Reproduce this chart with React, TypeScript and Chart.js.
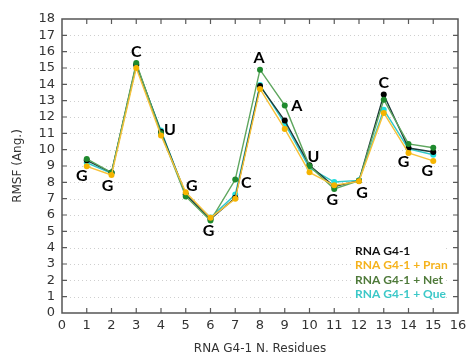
import React, { useEffect, useRef } from "react";
import { Chart, registerables } from "chart.js";

Chart.register(...registerables);

const residues = [1, 2, 3, 4, 5, 6, 7, 8, 9, 10, 11, 12, 13, 14, 15];
const bases = ["G", "G", "C", "U", "G", "G", "C", "A", "A", "U", "G", "G", "C", "G", "G"];
const rnaG41 = [9.35, 8.6, 15.2, 11.1, 7.25, 5.75, 7.05, 13.9, 11.78, 9.05, 7.75, 8.1, 13.37, 10.1, 9.86];
const rnaPran = [8.98, 8.45, 15.0, 10.87, 7.39, 5.83, 6.99, 13.72, 11.27, 8.61, 7.82, 8.06, 12.25, 9.8, 9.31];
const rnaNet = [9.43, 8.6, 15.3, 11.0, 7.14, 5.66, 8.17, 14.9, 12.71, 9.0, 7.59, 8.1, 13.06, 10.35, 10.12];
const rnaQue = [9.2, 8.55, 15.15, 11.17, 7.25, 5.85, 7.25, 13.96, 11.59, 8.88, 8.02, 8.12, 12.45, 10.05, 9.69];
const seriesLabels = ["RNA G4-1", "RNA G4-1 + Pran", "RNA G4-1 + Net", "RNA G4-1 + Que"];

// label offsets (pixels) relative to the RNA G4-1 point
const letterOffsets = [
  [-5, 16], [-4, 13], [0, -13], [9, -2], [6, -9], [-2, 12], [11, -15], [-1, -28],
  [12, -15], [4, -8], [-2, 13], [3, 12], [0, -12], [-5, 14], [-6, 19],
];

const legendColors = ["#111111", "#f5b21c", "#4f7a3a", "#3cc8c8"];

const toPts = (arr: number[]) => arr.map((y, i) => ({ x: residues[i], y }));

export default function App() {
  const ref = useRef<HTMLCanvasElement | null>(null);
  useEffect(() => {
    if (!ref.current) return;
    const overlay = {
      id: "overlay",
      beforeDatasetsDraw(chart: any) {
        const ctx = chart.ctx;
        const ys = chart.scales.y;
        const { left, right } = chart.chartArea;
        ctx.save();
        ctx.strokeStyle = "#cfcfcf";
        ctx.lineWidth = 1;
        ctx.setLineDash([1, 3]);
        ctx.beginPath();
        for (let v = 1; v < 18; v++) {
          const py = Math.round(ys.getPixelForValue(v)) + 0.5;
          ctx.moveTo(left + 8, py);
          ctx.lineTo(right - 8, py);
        }
        ctx.stroke();
        ctx.restore();
      },
      afterDraw(chart: any) {
        const ctx = chart.ctx;
        const xs = chart.scales.x;
        const ys = chart.scales.y;
        const { left, right, top, bottom } = chart.chartArea;
        ctx.save();
        // legend background
        ctx.fillStyle = "#ffffff";
        ctx.fillRect(353, 243, 92, 60);
        // inward ticks
        ctx.strokeStyle = "#5a5a5a";
        ctx.lineWidth = 1.2;
        ctx.beginPath();
        for (let v = 1; v < 16; v++) {
          const px = xs.getPixelForValue(v);
          ctx.moveTo(px, bottom);
          ctx.lineTo(px, bottom - 5);
          ctx.moveTo(px, top);
          ctx.lineTo(px, top + 5);
        }
        for (let v = 1; v < 18; v++) {
          const py = ys.getPixelForValue(v);
          ctx.moveTo(left, py);
          ctx.lineTo(left + 5, py);
          ctx.moveTo(right, py);
          ctx.lineTo(right - 5, py);
        }
        ctx.stroke();
        // box
        ctx.strokeStyle = "#555555";
        ctx.lineWidth = 1.5;
        ctx.strokeRect(left, top, right - left, bottom - top);
        // legend
        ctx.textAlign = "left";
        ctx.textBaseline = "middle";
        const lx = 355;
        const ly0 = 251;
        seriesLabels.forEach((t, i) => {
          ctx.font = "bold 12px Lato";
          ctx.fillStyle = legendColors[i];
          ctx.fillText(t, lx, ly0 + i * 14.5);
        });
        ctx.restore();
      },
      afterDatasetsDraw(chart: any) {
        const ctx = chart.ctx;
        const xs = chart.scales.x;
        const ys = chart.scales.y;
        ctx.save();
        ctx.font = "bold 16px Lato";
        ctx.fillStyle = "#000";
        ctx.textAlign = "center";
        ctx.textBaseline = "middle";
        bases.forEach((b, i) => {
          const px = xs.getPixelForValue(residues[i]) + letterOffsets[i][0];
          const py = ys.getPixelForValue(rnaG41[i]) + letterOffsets[i][1];
          ctx.fillText(b, px, py);
        });
        ctx.restore();
      },
    };
    const mk = (label: string, data: number[], line: string, pt: string) => ({
      label,
      data: toPts(data),
      borderColor: line,
      backgroundColor: pt,
      pointBackgroundColor: pt,
      pointBorderColor: pt,
      pointRadius: 3,
      pointBorderWidth: 0,
      borderWidth: 1.4,
      tension: 0,
    });
    const chart = new Chart(ref.current, {
      type: "line",
      data: {
        datasets: [
          mk(seriesLabels[1], rnaPran, "#f7c23a", "#f5b400"),
          mk(seriesLabels[2], rnaNet, "#5ea65e", "#1f8a2e"),
          mk(seriesLabels[0], rnaG41, "#1a3a3a", "#000000"),
          mk(seriesLabels[3], rnaQue, "#30c8c8", "#22dede"),
        ],
      },
      options: {
        animation: false,
        responsive: false,
        maintainAspectRatio: false,
        layout: { padding: { top: 19, right: 16, left: 0, bottom: 0 } },
        plugins: { legend: { display: false }, tooltip: { enabled: false } },
        scales: {
          x: {
            type: "linear",
            min: 0,
            max: 16,
            afterFit: (s: any) => { s.height = 48; },
            ticks: {
              stepSize: 1,
              autoSkip: false,
              maxRotation: 0,
              padding: 5,
              color: "#333",
              font: { family: "'DejaVu Sans'", size: 13 },
            },
            grid: { display: false, drawTicks: false },
            border: { display: false },
            title: {
              display: true,
              text: "RNA G4-1 N. Residues",
              color: "#333",
              font: { family: "'DejaVu Sans'", size: 12 },
              padding: { top: 0, bottom: 5 },
            },
          },
          y: {
            type: "linear",
            min: 0,
            max: 18,
            afterFit: (s: any) => { s.width = 62; },
            ticks: {
              stepSize: 1,
              autoSkip: false,
              padding: 7,
              color: "#333",
              font: { family: "'DejaVu Sans'", size: 13 },
            },
            grid: { display: false, drawTicks: false },
            border: { display: false },
            title: {
              display: true,
              text: "RMSF (Ang.)",
              color: "#333",
              font: { family: "'DejaVu Sans'", size: 12 },
              padding: { top: 11, bottom: 0 },
            },
          },
        },
      },
      plugins: [overlay],
    } as any);
    return () => chart.destroy();
  }, []);
  return (
    <div style={{ position: "fixed", left: 0, top: 0, width: 474, height: 361, background: "#fff" }}>
      <canvas ref={ref} width={474} height={361} style={{ width: 474, height: 361 }} />
    </div>
  );
}
